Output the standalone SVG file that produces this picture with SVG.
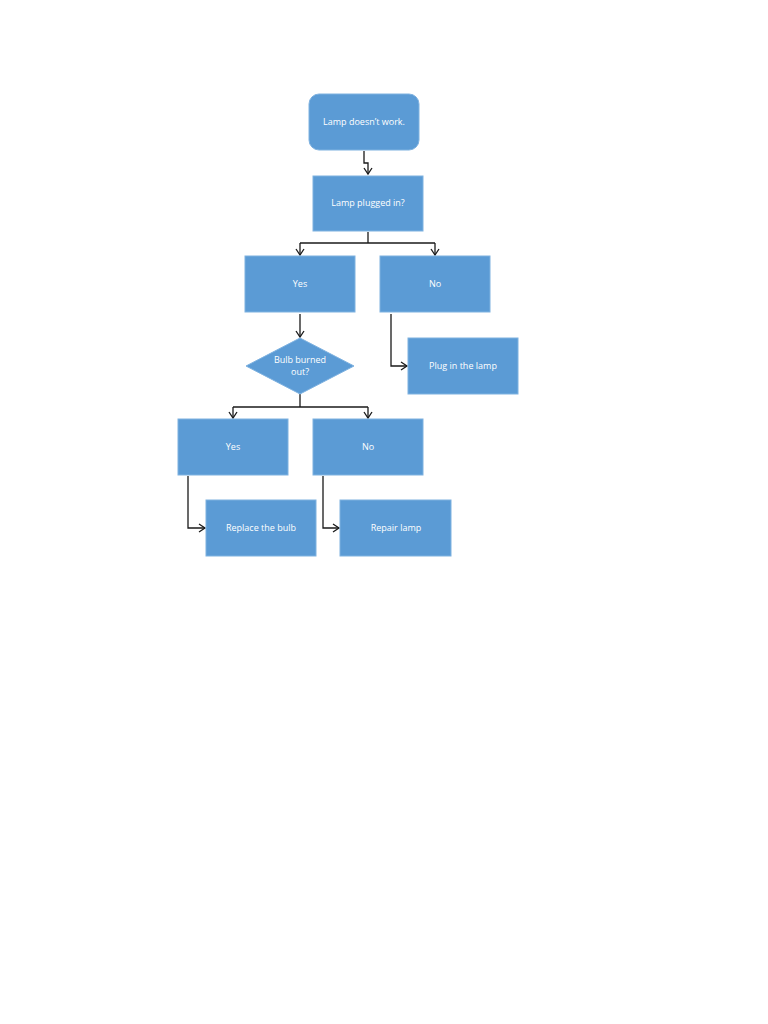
<svg xmlns="http://www.w3.org/2000/svg" width="768" height="1024" viewBox="0 0 768 1024">
<style>
.n{fill:#5b9bd5;stroke:#7fb2e0;stroke-width:1}
.t{font-family:"Open Sans","Liberation Sans",sans-serif;font-size:9px;fill:#fff;text-anchor:middle}
.c{fill:none;stroke:#1a1a1a;stroke-width:1.3}
</style>
<defs><marker id="a" markerWidth="10" markerHeight="10" refX="8" refY="5" orient="auto" markerUnits="userSpaceOnUse"><path d="M2,1 L8,5 L2,9" fill="none" stroke="#1a1a1a" stroke-width="1.3"/></marker></defs>
<rect width="768" height="1024" fill="#fff"/>
<g id="connectors">
<path class="c" d="M364,151 V163 H368 V174" marker-end="url(#a)"/>
<path class="c" d="M368,232 V243"/>
<path class="c" d="M300,243 H435" stroke-width="2"/>
<path class="c" d="M300,243 V255" marker-end="url(#a)"/>
<path class="c" d="M435,243 V255" marker-end="url(#a)"/>
<path class="c" d="M300,314 V337" marker-end="url(#a)"/>
<path class="c" d="M391,314 V366 H407" marker-end="url(#a)"/>
<path class="c" d="M300,394 V407"/>
<path class="c" d="M233,407 H368"/>
<path class="c" d="M233,407 V418" marker-end="url(#a)"/>
<path class="c" d="M368,407 V418" marker-end="url(#a)"/>
<path class="c" d="M188,476 V528 H205" marker-end="url(#a)"/>
<path class="c" d="M323,476 V528 H339" stroke-width="2" marker-end="url(#a)"/>
</g>
<g id="start"><rect class="n" x="309" y="94" width="110" height="56" rx="10"/><text class="t" x="364" y="125">Lamp doesn’t work.</text></g>
<g id="plugged"><rect class="n" x="313" y="176" width="110" height="55"/><text class="t" x="368" y="206">Lamp plugged in?</text></g>
<g id="yes1"><rect class="n" x="245" y="256" width="110" height="56"/><text class="t" x="300" y="287">Yes</text></g>
<g id="no1"><rect class="n" x="380" y="256" width="110" height="56"/><text class="t" x="435" y="287">No</text></g>
<g id="bulb"><polygon class="n" points="300,338 354,366 300,394 246,366"/><text class="t" x="300" y="363">Bulb burned</text><text class="t" x="300" y="375">out?</text></g>
<g id="plug"><rect class="n" x="408" y="338" width="110" height="56"/><text class="t" x="463" y="369">Plug in the lamp</text></g>
<g id="yes2"><rect class="n" x="178" y="419" width="110" height="56"/><text class="t" x="233" y="450">Yes</text></g>
<g id="no2"><rect class="n" x="313" y="419" width="110" height="56"/><text class="t" x="368" y="450">No</text></g>
<g id="replace"><rect class="n" x="206" y="500" width="110" height="56"/><text class="t" x="261" y="531">Replace the bulb</text></g>
<g id="repair"><rect class="n" x="340" y="500" width="111" height="56"/><text class="t" x="396" y="531">Repair lamp</text></g>
</svg>
